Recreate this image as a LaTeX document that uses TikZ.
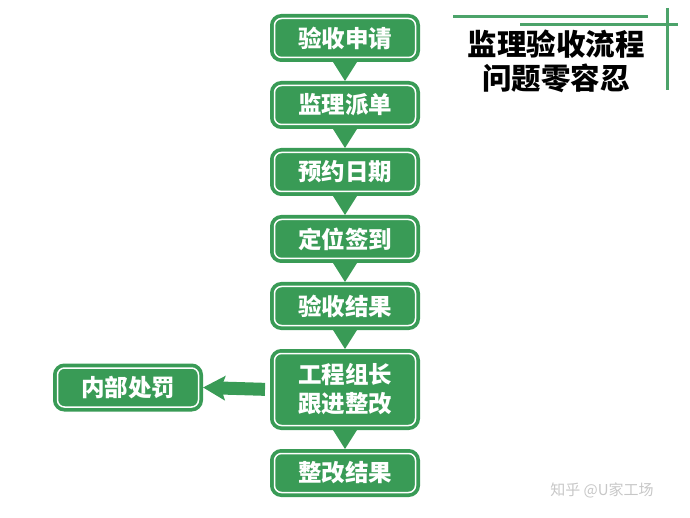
\documentclass[tikz,border=0pt]{standalone}
\usepackage{fontspec}
\setmainfont{Noto Sans CJK SC}
\usetikzlibrary{arrows.meta,positioning}
\definecolor{flowgreen}{RGB}{57,155,86}
\definecolor{linegreen}{RGB}{76,163,106}

\begin{document}
\begin{tikzpicture}[x=1pt, y=1pt,
  box/.style={rounded corners=7pt, fill=flowgreen, draw=white, line width=1.5pt,
    preaction={draw=flowgreen, line width=9pt}, outer sep=4.5pt,
    minimum width=141pt, minimum height=39pt, inner sep=0pt,
    text=white, font=\fontsize{23.5}{29}\selectfont\bfseries, align=center},
  tri/.style={fill=flowgreen},
  arr/.style={-{Stealth[length=22pt, width=24pt, inset=4pt]}, line width=13pt, draw=flowgreen}
]
\useasboundingbox (0,0) rectangle (690,517);
\node[box] (apply) at (345,479) {验收申请};
\node[box, below=19pt of apply] (assign) {监理派单};
\node[box, below=19pt of assign] (book) {预约日期};
\node[box, below=19pt of book] (sign) {定位签到};
\node[box, below=19pt of sign] (result) {验收结果};
\node[box, below=19pt of result, minimum height=72pt] (follow) {工程组长\\跟进整改};
\node[box, below=19pt of follow] (fixed) {整改结果};
\node[box, left=67pt of follow, yshift=2pt] (penalty) {内部处罚};
\foreach \a/\b in {apply/assign, assign/book, book/sign, sign/result, result/follow, follow/fixed}
  \fill[tri] ([xshift=-12pt]\a.south) -- ([xshift=12pt]\a.south) -- (\b.north) -- cycle;
\draw[arr, shorten <=5pt] (follow.west) -- (penalty.east);
% title in the corner
\node[font=\fontsize{29.5}{34}\selectfont\bfseries, align=center] (title) at (556,456) {监理验收流程\\问题零容忍};
\draw[linegreen, line width=3pt] (453,500) -- (648,500);
\draw[linegreen, line width=3pt] (520,492) -- (678,492);
\draw[linegreen, line width=3pt] (667,509) -- (667,427);
\node[text=black!22, font=\fontsize{15}{18}\selectfont] (mark) at (602,27) {知乎 @U家工场};
\end{tikzpicture}
\end{document}
